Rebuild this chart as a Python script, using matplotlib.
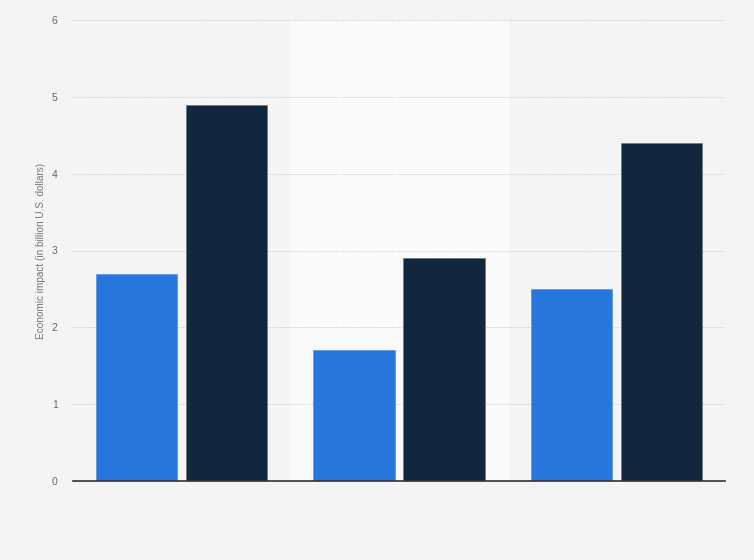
import matplotlib.pyplot as plt
import numpy as np

plt.rcParams['font.family'] = ['Liberation Sans', 'DejaVu Sans']

groups = ["Group 1", "Group 2", "Group 3"]
series_a = [2.7, 1.7, 2.5]
series_b = [4.9, 2.9, 4.4]
yticks = [0, 1, 2, 3, 4, 5, 6]

bg = "#f4f4f4"
fig = plt.figure(figsize=(7.54, 5.6), dpi=100, facecolor=bg)
ax = fig.add_axes([73 / 754, 1 - 481 / 560, 652 / 754, 461 / 560])
ax.set_facecolor(bg)

x = np.arange(len(groups))
w = 0.373
off = 0.207
ax.axvspan(0.5, 1.5, color="#fafafa", zorder=0)
ax.bar(x - off, series_a, w, color="#2776db", edgecolor="#5a8fe0", linewidth=0.5, zorder=3)
ax.bar(x + off, series_b, w, color="#12263d", edgecolor="#6b7683", linewidth=0.5, zorder=3)

ax.set_xlim(-0.5, 2.5)
ax.set_ylim(0, 6)
ax.set_yticks(yticks)
ax.set_yticklabels([str(t) for t in yticks])
ax.set_xticks([])
ax.grid(axis="y", color="#c8c8c8", linestyle=(0, (1, 1.5)), linewidth=0.7, zorder=1)
for s in ["top", "right", "left"]:
    ax.spines[s].set_visible(False)
ax.spines["bottom"].set_color("#333333")
ax.spines["bottom"].set_linewidth(1.2)
ax.spines["bottom"].set_zorder(4)
ax.tick_params(axis="y", length=0, pad=11, labelsize=7.5, labelcolor="#666666")
ax.set_ylabel("Economic impact (in billion U.S. dollars)", fontsize=7.2, color="#777777", labelpad=4.5)

fig.savefig("out.png", dpi=100, facecolor=bg)
